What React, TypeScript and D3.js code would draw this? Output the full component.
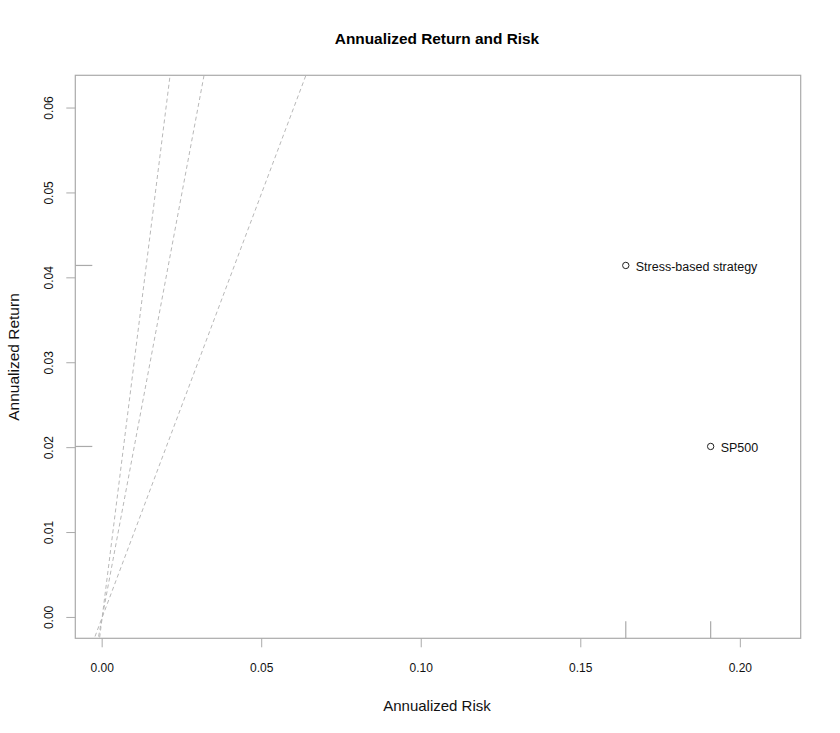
import React from "react";
import * as d3 from "d3";

const names = ["Stress-based strategy", "SP500"];
const risk = [0.1641, 0.1907];
const ret = [0.04146, 0.02014];
const sharpeSlopes = [1, 2, 3];
const riskFree = 0;
const xTicks = [0, 0.05, 0.1, 0.15, 0.2];
const yTicks = [0, 0.01, 0.02, 0.03, 0.04, 0.05, 0.06];
const xLim = [0, 0.2105];
const yLim = [0, 0.0614];

const W = 840;
const H = 733;
const L = 75.3, R = 800.7, T = 75.3, B = 638.3;
const FONT = "'Liberation Sans', Arial, sans-serif";
const GRAY = "#aaaaaa";

export default function App() {
  const xd = xLim[1] - xLim[0];
  const yd = yLim[1] - yLim[0];
  const x = d3.scaleLinear().domain([xLim[0] - 0.04 * xd, xLim[1] + 0.04 * xd]).range([L, R]);
  const y = d3.scaleLinear().domain([yLim[0] - 0.04 * yd, yLim[1] + 0.04 * yd]).range([B, T]);
  const fmt = d3.format(".2f");
  const [x0, x1] = x.domain();
  return (
    <svg width={W} height={H} style={{ position: "absolute", left: 0, top: 0, background: "#fff" }} fontFamily={FONT}>
      <defs>
        <clipPath id="plotclip">
          <rect x={L} y={T} width={R - L} height={B - T} />
        </clipPath>
      </defs>
      <rect width={W} height={H} fill="#fff" />
      <g clipPath="url(#plotclip)">
        {sharpeSlopes.map((s) => (
          <line
            key={s}
            x1={x(x0)}
            y1={y(riskFree + s * x0)}
            x2={x(x1)}
            y2={y(riskFree + s * x1)}
            stroke="#b8b8b8"
            strokeWidth={1}
            strokeDasharray="4,3"
          />
        ))}
      </g>
      {risk.map((r, i) => (
        <line key={"rx" + i} x1={x(r)} x2={x(r)} y1={B} y2={B - 17} stroke={GRAY} strokeWidth={1.2} />
      ))}
      {ret.map((r, i) => (
        <line key={"ry" + i} x1={L} x2={L + 17} y1={y(r)} y2={y(r)} stroke={GRAY} strokeWidth={1.2} />
      ))}
      <rect x={L} y={T} width={R - L} height={B - T} fill="none" stroke={GRAY} strokeWidth={1.2} />
      {xTicks.map((t) => (
        <g key={"xt" + t}>
          <line x1={x(t)} x2={x(t)} y1={B} y2={B + 9} stroke={GRAY} strokeWidth={1} />
          <text x={x(t)} y={668} textAnchor="middle" dominantBaseline="central" fontSize={12} fill="#111">
            {fmt(t)}
          </text>
        </g>
      ))}
      {yTicks.map((t) => (
        <g key={"yt" + t}>
          <line x1={L - 9} x2={L} y1={y(t)} y2={y(t)} stroke={GRAY} strokeWidth={1} />
          <text
            transform={`translate(48.5,${y(t)}) rotate(-90)`}
            textAnchor="middle"
            dominantBaseline="central"
            fontSize={12}
            fill="#111"
          >
            {fmt(t)}
          </text>
        </g>
      ))}
      {risk.map((r, i) => (
        <g key={"p" + i}>
          <circle cx={x(r)} cy={y(ret[i])} r={3.2} fill="none" stroke="#222" strokeWidth={1} />
          <text x={x(r) + 10} y={y(ret[i]) + 1.2} dominantBaseline="central" fontSize={12.5} fill="#111">
            {names[i]}
          </text>
        </g>
      ))}
      <text x={437} y={38} textAnchor="middle" dominantBaseline="central" fontSize={15.4} fontWeight="bold" fill="#000">
        Annualized Return and Risk
      </text>
      <text x={437} y={705} textAnchor="middle" dominantBaseline="central" fontSize={15} fill="#111">
        Annualized Risk
      </text>
      <text
        transform={`translate(13,357) rotate(-90)`}
        textAnchor="middle"
        dominantBaseline="central"
        fontSize={15.5}
        fill="#111"
      >
        Annualized Return
      </text>
    </svg>
  );
}
